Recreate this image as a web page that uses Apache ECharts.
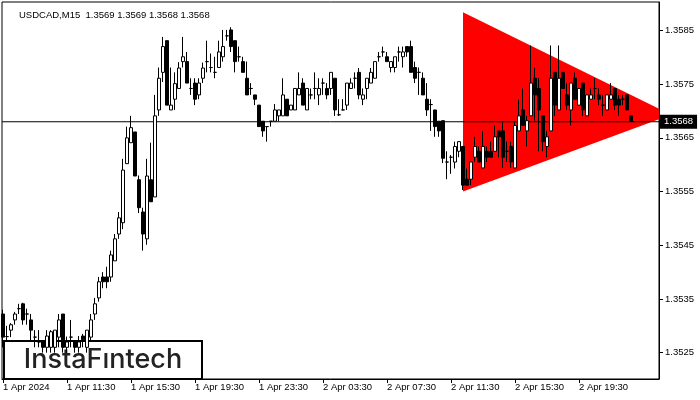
<!DOCTYPE html>
<html>
<head>
<meta charset="utf-8">
<script src="https://cdn.jsdelivr.net/npm/echarts@6/dist/echarts.min.js"></script>
<style>
  html, body { margin: 0; padding: 0; background: #fff; }
  #chart { width: 700px; height: 400px; }
</style>
</head>
<body>
<div id="chart"></div>
<script>
// USDCAD M15, one entry per bar (bar 0 = 1 Apr 07:30)
const openPrices = [
  1.35322, 1.3528, 1.35292, 1.35311, 1.35332, 1.35341, 1.35322, 1.35311, 1.35279, 1.3527,
  1.3527, 1.3526, 1.3526, 1.3526, 1.35279, 1.35322, 1.3526, 1.35279, 1.3527, 1.3526,
  1.35281, 1.3526, 1.35279, 1.35322, 1.35352, 1.35391, 1.35391, 1.35391, 1.35421, 1.35471,
  1.35492, 1.35602, 1.35641, 1.35661, 1.35572, 1.35512, 1.35462, 1.35572, 1.3554, 1.35702,
  1.35772, 1.35831, 1.35702, 1.35722, 1.35742, 1.35792, 1.35792, 1.35742, 1.35752, 1.3573,
  1.35761, 1.35792, 1.35781, 1.35772, 1.35781, 1.35801, 1.3584, 1.35851, 1.35831, 1.35801,
  1.35792, 1.35761, 1.35742, 1.3573, 1.35711, 1.35681, 1.35671, 1.35681, 1.35681, 1.35691,
  1.35691, 1.35722, 1.35702, 1.35702, 1.3573, 1.35752, 1.35702, 1.3573, 1.35742, 1.3573,
  1.35752, 1.35742, 1.35742, 1.35761, 1.35693, 1.35702, 1.35711, 1.35742, 1.35761, 1.35772,
  1.35722, 1.35742, 1.35752, 1.35761, 1.35801, 1.3581, 1.35801, 1.35781, 1.35781, 1.3581,
  1.35801, 1.3582, 1.3582, 1.35781, 1.35772, 1.35761, 1.35722, 1.35712, 1.35702, 1.35681,
  1.35682, 1.35605, 1.35614, 1.35605, 1.35625, 1.35634, 1.35573, 1.35573, 1.35614, 1.35625,
  1.35594, 1.35625, 1.35625, 1.35625, 1.35663, 1.35663, 1.35625, 1.35634, 1.35594, 1.35663,
  1.35702, 1.35663, 1.35691, 1.35761, 1.35742, 1.35691, 1.35634, 1.35663, 1.35772, 1.35702,
  1.35772, 1.3573, 1.35702, 1.35761, 1.35711, 1.35752, 1.35691, 1.35722, 1.35742, 1.3573,
  1.35711, 1.35702, 1.35722, 1.35742, 1.35722, 1.35722, 1.3573, 1.35691
];
const highPrices = [
  1.3533, 1.353, 1.35305, 1.35326, 1.35341, 1.35343, 1.35332, 1.35322, 1.35292, 1.35292,
  1.3527, 1.35292, 1.35292, 1.35292, 1.35322, 1.35322, 1.3528, 1.35311, 1.3527, 1.35281,
  1.35285, 1.35292, 1.35322, 1.35352, 1.35391, 1.354, 1.3541, 1.3544, 1.35471, 1.35512,
  1.35611, 1.35671, 1.35691, 1.35661, 1.3558, 1.3552, 1.35611, 1.35641, 1.3573, 1.35781,
  1.35838, 1.35831, 1.35781, 1.35772, 1.35791, 1.35838, 1.3581, 1.35761, 1.35761, 1.35761,
  1.3579, 1.35831, 1.35807, 1.35801, 1.35831, 1.35851, 1.35851, 1.35856, 1.35831, 1.3582,
  1.35801, 1.35792, 1.35752, 1.3573, 1.35711, 1.35681, 1.35671, 1.35681, 1.35713, 1.35702,
  1.35761, 1.35722, 1.35711, 1.35742, 1.35772, 1.35761, 1.35742, 1.35742, 1.35772, 1.35761,
  1.35761, 1.35752, 1.35772, 1.35761, 1.35722, 1.35722, 1.35752, 1.35761, 1.35772, 1.3578,
  1.35742, 1.35761, 1.3578, 1.35792, 1.3581, 1.3582, 1.3581, 1.35792, 1.35801, 1.3582,
  1.3582, 1.3582, 1.35831, 1.35792, 1.35781, 1.35772, 1.35752, 1.35722, 1.35702, 1.35681,
  1.35682, 1.35625, 1.35618, 1.35643, 1.35643, 1.35634, 1.35593, 1.35605, 1.35652, 1.35634,
  1.35663, 1.35634, 1.35643, 1.35673, 1.35663, 1.35681, 1.35643, 1.35643, 1.35681, 1.35722,
  1.35742, 1.35691, 1.35822, 1.35781, 1.35761, 1.35691, 1.35663, 1.35822, 1.35772, 1.35822,
  1.35772, 1.35752, 1.35752, 1.35772, 1.35742, 1.35752, 1.3573, 1.35742, 1.35761, 1.35742,
  1.3573, 1.3573, 1.35752, 1.35742, 1.3573, 1.3573, 1.3573, 1.35691
];
const lowPrices = [
  1.3526, 1.3527, 1.35279, 1.35302, 1.35322, 1.35302, 1.35302, 1.3527, 1.3526, 1.3526,
  1.3525, 1.3525, 1.3525, 1.3525, 1.3526, 1.3525, 1.3525, 1.3526, 1.3525, 1.3525,
  1.3526, 1.3525, 1.3527, 1.35311, 1.35345, 1.3537, 1.3537, 1.35382, 1.35421, 1.35462,
  1.3548, 1.35602, 1.35641, 1.35579, 1.3551, 1.3544, 1.35451, 1.35531, 1.3554, 1.35691,
  1.35754, 1.35711, 1.35702, 1.35702, 1.35742, 1.35781, 1.35752, 1.3573, 1.35711, 1.35722,
  1.35752, 1.35772, 1.35772, 1.35761, 1.35781, 1.35792, 1.35831, 1.3581, 1.35772, 1.35792,
  1.35772, 1.3573, 1.3573, 1.35711, 1.35671, 1.35652, 1.35643, 1.35671, 1.35681, 1.35681,
  1.35691, 1.35691, 1.35702, 1.35702, 1.3573, 1.35711, 1.35702, 1.35722, 1.35722, 1.35711,
  1.3573, 1.35722, 1.3573, 1.35691, 1.35691, 1.35702, 1.35702, 1.35742, 1.35742, 1.35722,
  1.35711, 1.35722, 1.35752, 1.35761, 1.35792, 1.35801, 1.35792, 1.35772, 1.35772, 1.35792,
  1.35781, 1.35801, 1.35772, 1.35752, 1.3573, 1.3573, 1.35691, 1.35663, 1.35652, 1.35652,
  1.35603, 1.35573, 1.35583, 1.35593, 1.35614, 1.35553, 1.35562, 1.35562, 1.35605, 1.35605,
  1.35594, 1.35605, 1.35614, 1.35625, 1.35614, 1.35594, 1.35605, 1.35594, 1.35594, 1.35663,
  1.35673, 1.35634, 1.35691, 1.35682, 1.35625, 1.35625, 1.35614, 1.35663, 1.35691, 1.35702,
  1.35742, 1.35702, 1.35673, 1.35722, 1.35711, 1.35691, 1.35691, 1.35722, 1.35722, 1.35711,
  1.35691, 1.35702, 1.35722, 1.35702, 1.35691, 1.35711, 1.35702, 1.3568
];
const closePrices = [
  1.35279, 1.3528, 1.35302, 1.35322, 1.35332, 1.35311, 1.35322, 1.35292, 1.35279, 1.3527,
  1.3526, 1.35281, 1.35289, 1.35292, 1.35311, 1.3526, 1.3527, 1.35279, 1.3526, 1.3527,
  1.35274, 1.35292, 1.35311, 1.35341, 1.35382, 1.35382, 1.35382, 1.35432, 1.35462, 1.35501,
  1.3559, 1.3565, 1.35669, 1.35579, 1.3552, 1.35471, 1.35579, 1.35531, 1.35691, 1.35761,
  1.3582, 1.35711, 1.35711, 1.35751, 1.3578, 1.35801, 1.35752, 1.35742, 1.35722, 1.35752,
  1.3578, 1.35792, 1.35781, 1.35772, 1.3581, 1.3582, 1.3584, 1.3582, 1.35792, 1.35801,
  1.35772, 1.3573, 1.35742, 1.35722, 1.35671, 1.35663, 1.35671, 1.35681, 1.35702, 1.35702,
  1.3573, 1.35691, 1.35711, 1.35742, 1.35742, 1.35711, 1.35742, 1.3573, 1.35742, 1.35742,
  1.35752, 1.3573, 1.35772, 1.35702, 1.35693, 1.35702, 1.35752, 1.35752, 1.35761, 1.3573,
  1.3573, 1.35761, 1.35772, 1.35792, 1.35801, 1.3581, 1.35792, 1.35792, 1.35801, 1.3581,
  1.3581, 1.3581, 1.35772, 1.35761, 1.35772, 1.3573, 1.35702, 1.35712, 1.35671, 1.35663,
  1.35612, 1.35605, 1.35614, 1.35634, 1.35643, 1.35562, 1.35562, 1.35605, 1.35634, 1.35605,
  1.35634, 1.35614, 1.35614, 1.35652, 1.35652, 1.35614, 1.35625, 1.35605, 1.35673, 1.35691,
  1.35673, 1.35682, 1.35752, 1.3573, 1.35702, 1.35643, 1.35652, 1.35761, 1.35711, 1.35761,
  1.35742, 1.35711, 1.35752, 1.35722, 1.35742, 1.35702, 1.3573, 1.3573, 1.35742, 1.35722,
  1.35711, 1.3573, 1.3573, 1.35711, 1.35711, 1.35722, 1.35702, 1.35681
];

// time axis labels and the bar they sit on
const tickBars = [0, 16, 32, 48, 64, 80, 96, 112, 128, 144];
const tickLabels = [
  '1 Apr 2024', '1 Apr 11:30', '1 Apr 15:30', '1 Apr 19:30', '1 Apr 23:30',
  '2 Apr 03:30', '2 Apr 07:30', '2 Apr 11:30', '2 Apr 15:30', '2 Apr 19:30'
];
const priceTicks = [1.3525, 1.3535, 1.3545, 1.3555, 1.3565, 1.3575, 1.3585];

// symmetrical triangle: top-left, bottom-left, apex (bar index, price)
const triangleBars = [115, 115, 167];
const trianglePrices = [1.35884, 1.3555, 1.35693];

// bid line across the chart, from first to last axis bar
const bidBars = [-0.25, 164];
const currentPrice = 1.3568;
const titleText = 'USDCAD,M15  1.3569 1.3569 1.3568 1.3568';

const FONT = 'Liberation Sans';

const candles = openPrices.map((o, i) => [i, o, closePrices[i], lowPrices[i], highPrices[i]]);
const triangle = [triangleBars.flatMap((b, k) => [b, trianglePrices[k]])];
const bidLine = bidBars.map((b) => [b, currentPrice]);

const chart = echarts.init(document.getElementById('chart'), null, { renderer: 'canvas' });

chart.setOption({
  animation: false,
  backgroundColor: '#fff',
  title: {
    text: titleText,
    left: 14,
    top: 5,
    textStyle: { fontFamily: FONT, fontSize: 9.5, fontWeight: 'normal', color: '#000' }
  },
  grid: {
    left: 2, top: 2, right: 41, bottom: 21,
    show: true, borderColor: '#000', borderWidth: 1, backgroundColor: 'transparent'
  },
  xAxis: {
    type: 'value',
    min: -0.25,
    max: 164,
    splitLine: { show: false },
    axisLine: { show: true, onZero: false, lineStyle: { color: '#000', width: 1 } },
    axisTick: { show: true, length: 4, customValues: tickBars, lineStyle: { color: '#000' } },
    axisLabel: {
      customValues: tickBars,
      formatter: (v) => tickLabels[tickBars.indexOf(v)] || '',
      align: 'left',
      margin: 3,
      color: '#000',
      fontFamily: FONT,
      fontSize: 9.5
    }
  },
  yAxis: {
    type: 'value',
    position: 'right',
    min: 1.35201,
    max: 1.35903,
    scale: true,
    splitLine: { show: false },
    axisLine: { show: true, onZero: false, lineStyle: { color: '#000', width: 1 } },
    axisTick: { show: true, length: 4, customValues: priceTicks, lineStyle: { color: '#000' } },
    axisLabel: {
      customValues: priceTicks,
      formatter: (v) => v.toFixed(4),
      margin: 6,
      color: '#000',
      fontFamily: FONT,
      fontSize: 9.5
    }
  },
  series: [
    {
      type: 'custom',
      z: 1,
      clip: true,
      silent: true,
      encode: { x: [0, 2, 4], y: [1, 3, 5] },
      data: triangle,
      renderItem: (params, api) => {
        const pts = [0, 1, 2].map((k) => api.coord([api.value(2 * k), api.value(2 * k + 1)]));
        return {
          type: 'polygon',
          shape: { points: pts },
          style: { fill: '#ff0000' }
        };
      }
    },
    {
      type: 'line',
      z: 2,
      silent: true,
      symbol: 'none',
      data: bidLine,
      lineStyle: { color: '#000', width: 1 },
      endLabel: {
        show: true,
        formatter: () => currentPrice.toFixed(4),
        distance: 1,
        backgroundColor: '#000',
        color: '#fff',
        padding: [2, 4, 2, 4],
        fontFamily: FONT,
        fontSize: 9.5
      }
    },
    {
      type: 'candlestick',
      z: 3,
      barWidth: 3,
      encode: { x: 0, y: [1, 2, 3, 4] },
      data: candles,
      itemStyle: {
        color: '#fff',
        color0: '#000',
        borderColor: '#000',
        borderColor0: '#000',
        borderWidth: 1
      }
    }
  ],
  graphic: [
    {
      type: 'group',
      left: 3,
      top: 340,
      z: 100,
      children: [
        {
          type: 'rect',
          shape: { x: 0, y: 0, width: 198, height: 38 },
          style: { fill: '#fff', stroke: '#000', lineWidth: 2 }
        },
        {
          type: 'text',
          x: 99,
          y: 19,
          style: {
            text: 'InstaFıntech',
            fontFamily: 'Inter',
            fontSize: 27,
            fontWeight: 500,
            fill: '#222',
            align: 'center',
            verticalAlign: 'middle'
          }
        }
      ]
    }
  ]
});
</script>
</body>
</html>
